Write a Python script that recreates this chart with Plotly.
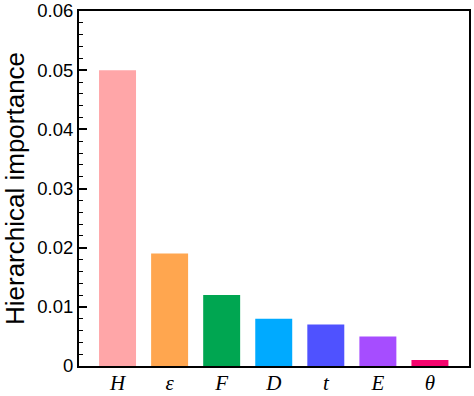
import plotly.graph_objects as go

categories = ["H", "ε", "F", "D", "t", "E", "θ"]
values = [0.050, 0.019, 0.012, 0.008, 0.007, 0.005, 0.001]
colors = ["#FFA6A8", "#FFA64F", "#00A651", "#00AAFF", "#4F52FF", "#A64DFF", "#F5056E"]
ytick_vals = [0, 0.01, 0.02, 0.03, 0.04, 0.05, 0.06]
ytick_text = ["0", "0.01", "0.02", "0.03", "0.04", "0.05", "0.06"]

fig = go.Figure(go.Bar(
    x=categories, y=values, marker=dict(color=colors, line=dict(width=0)),
    width=0.71,
))

fig.update_layout(
    width=474, height=396,
    margin=dict(l=79, r=5, t=11, b=30, autoexpand=False),
    plot_bgcolor="white", paper_bgcolor="white",
    showlegend=False,
    font=dict(family="Liberation Sans, Arial", color="black"),
)
fig.update_xaxes(
    type="category", range=[-0.74, 6.75],
    tickvals=categories, ticktext=["<i>%s</i>" % c for c in categories],
    tickfont=dict(family="Liberation Serif, DejaVu Serif", size=21, color="black"),
    showline=True, linecolor="black", linewidth=2, mirror=True,
    ticks="", showgrid=False, ticklabelstandoff=-3, automargin=False,
    ticklabeloverflow="allow",
)
fig.update_yaxes(
    range=[0, 0.06], tickvals=ytick_vals, ticktext=ytick_text,
    tickfont=dict(size=18.5, color="black"),
    ticks="inside", ticklen=8, tickwidth=1.5, tickcolor="black",
    minor=dict(ticks="inside", ticklen=4, tickwidth=1, tickcolor="black", dtick=0.002, tick0=0),
    showline=True, linecolor="black", linewidth=2, mirror=True,
    showgrid=False, zeroline=False, automargin=False,
    ticklabeloverflow="allow",
    title=dict(text="Hierarchical importance", font=dict(size=26, color="black"), standoff=7),
)

fig.write_html("out.html", config={"displayModeBar": False},
               post_script="document.body.style.margin='0';")
